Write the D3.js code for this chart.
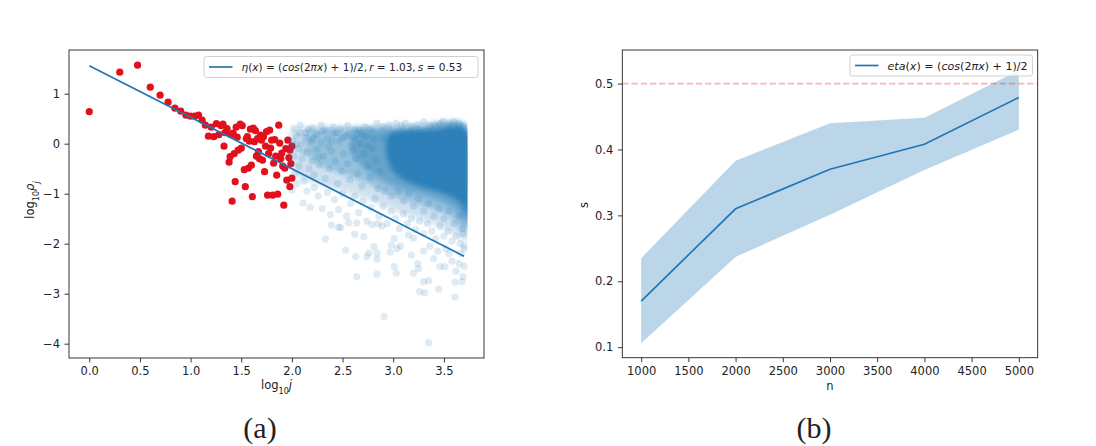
<!DOCTYPE html>
<html>
<head>
<meta charset="utf-8">
<script src="https://cdn.jsdelivr.net/npm/d3@7"></script>
<style>
  body { margin: 0; background: #fff; }
  svg text { font-family: "DejaVu Sans", sans-serif; fill: #222; }
</style>
</head>
<body>
<svg id="fig" width="1096" height="446"></svg>
<script>
// ---- panel (a): rank vs. weight, log-log ----
// first 100 ranks, read off the red markers
var redPoints = [
  [0.0,0.64],[0.301,1.43],[0.477,1.57],[0.602,1.13],[0.699,0.97],[0.778,0.83],[0.845,0.71],
  [0.903,0.65],[0.954,0.57],[1.0,0.55],[1.041,0.55],[1.079,0.57],[1.114,0.47],[1.146,0.37],
  [1.176,0.15],[1.204,0.33],[1.23,0.14],[1.255,0.40],[1.279,0.18],[1.301,0.36],
  [1.32,0.39],[1.33,-0.05],[1.34,0.22],[1.36,0.30],[1.38,-0.37],[1.39,-0.26],[1.40,0.18],
  [1.41,-1.15],[1.42,0.21],[1.43,-0.20],[1.44,-0.76],[1.45,0.33],[1.46,0.13],[1.47,-0.13],
  [1.49,0.39],[1.50,-0.09],[1.51,0.36],[1.53,-0.52],[1.54,-0.86],[1.55,0.10],[1.56,0.14],
  [1.57,-0.49],[1.58,0.05],[1.59,0.29],[1.60,-0.43],[1.61,-1.06],[1.62,0.31],[1.63,0.04],
  [1.64,0.26],[1.65,-0.25],[1.66,0.10],[1.67,-0.16],[1.68,-0.30],[1.69,0.17],[1.70,0.07],
  [1.71,-0.33],[1.72,0.14],[1.73,-0.56],[1.74,-0.05],[1.75,0.24],[1.76,-1.03],[1.77,-0.20],
  [1.78,0.27],[1.79,-0.09],[1.80,0.07],[1.81,-1.03],[1.82,-0.39],[1.83,0.08],[1.84,-0.25],
  [1.85,-0.63],[1.86,-1.01],[1.87,0.37],[1.88,0.01],[1.89,-0.30],[1.90,-0.19],[1.91,-0.45],
  [1.92,-1.23],[1.93,-0.49],[1.94,-0.10],[1.95,-0.73],[1.96,0.07],[1.97,-0.28],[1.98,-0.13],
  [1.98,-0.86],[1.99,-0.40],[2.0,-0.69],[2.0,-0.05]
];

// remaining ranks: the sparse, individually visible blue markers
var bluePoints = [
  // upper edge of the cloud
  [2.02,0.30],[2.08,0.37],[2.14,0.22],[2.2,0.31],[2.29,0.37],[2.34,0.27],[2.41,0.33],[2.48,0.30],
  [2.55,0.36],[2.62,0.28],[2.66,0.27],[2.72,0.33],[2.78,0.30],[2.84,0.41],[2.9,0.34],[2.96,0.37],
  [3.03,0.41],[3.08,0.36],[3.12,0.41],[3.18,0.35],[3.24,0.38],[3.30,0.44],[3.36,0.36],[3.41,0.37],
  [3.46,0.40],[3.49,0.44],[3.55,0.38],[3.6,0.44],[3.65,0.40],[3.69,0.36],
  // thin part of the cloud, ranks 100..800
  [2.01,0.05],[2.02,-0.25],[2.03,-0.6],[2.05,0.15],[2.06,-0.1],[2.07,-0.45],[2.09,0.0],[2.1,-0.3],
  [2.12,-0.75],[2.13,0.12],[2.15,-0.18],[2.17,-0.5],[2.19,0.05],[2.2,-0.35],[2.22,-0.62],[2.24,0.18],
  [2.25,-0.12],[2.27,-0.42],[2.29,0.02],[2.31,-0.25],[2.33,-0.7],[2.35,0.1],[2.37,-0.5],[2.39,-0.15],
  [2.41,0.2],[2.43,-0.35],[2.45,-0.8],[2.47,0.05],[2.49,-0.55],[2.51,-0.2],[2.53,0.15],[2.55,-0.4],
  [2.57,-0.72],[2.59,-0.05],[2.61,0.12],[2.63,-0.3],[2.65,-0.6],[2.67,0.0],[2.69,-0.85],[2.71,-0.2],
  [2.73,0.15],[2.75,-0.45],[2.77,-0.68],[2.79,-0.1],[2.81,0.08],[2.83,-0.35],[2.85,-0.9],[2.87,-0.55],
  [2.89,0.1],[2.04,-0.02],[2.08,0.22],[2.11,-0.15],[2.16,0.28],[2.21,0.1],[2.26,-0.28],[2.3,0.25],
  [2.36,-0.05],[2.4,0.05],[2.44,0.22],[2.5,0.12],[2.56,0.2],[2.6,-0.15],[2.68,0.2],[2.74,-0.05],
  // below the main band
  [2.0,-0.93],[2.05,-0.8],[2.11,-1.19],[2.15,-0.95],[2.18,-1.27],[2.22,-0.88],[2.26,-1.05],[2.3,-1.3],
  [2.35,-0.98],[2.38,-1.42],[2.42,-1.12],[2.46,-1.32],[2.5,-1.0],[2.54,-1.45],[2.58,-1.2],[2.62,-1.05],
  [2.66,-1.38],[2.7,-1.15],[2.74,-1.55],[2.78,-1.28],[2.82,-1.1],[2.86,-1.45],[2.9,-1.25],[2.94,-1.6],
  [2.98,-1.35],[3.02,-1.5],[3.06,-1.7],[3.1,-1.4],[3.14,-1.6],[3.18,-1.5],[3.22,-1.72],[3.26,-1.55],
  [3.3,-1.8],[3.34,-1.6],[3.38,-1.75],[3.42,-1.9],[3.46,-1.65],[3.5,-1.85],[3.54,-1.75],[3.58,-1.95],
  [3.62,-1.85],[3.66,-2.0],[3.69,-1.8],[3.7,-2.1],
  [2.92,-0.95],[2.98,-1.05],[3.05,-0.95],[3.1,-1.15],[3.15,-1.0],[3.2,-1.25],[3.25,-1.1],[3.3,-1.35],
  [3.35,-1.2],[3.4,-1.45],[3.45,-1.3],[3.5,-1.5],[3.55,-1.35],[3.6,-1.6],[3.65,-1.45],[3.68,-1.7],
  // outliers
  [2.33,-1.91],[2.39,-1.63],[2.46,-1.67],[2.48,-1.68],[2.56,-1.58],[2.64,-1.59],[2.53,-2.13],[2.62,-1.81],
  [2.63,-2.26],[2.64,-2.66],[2.71,-1.86],[2.74,-2.26],[2.76,-2.19],[2.81,-2.06],[2.84,-2.19],[2.84,-2.31],
  [2.84,-2.61],[2.91,-3.46],[2.79,-1.62],[2.85,-1.6],[2.89,-1.65],[2.97,-2.17],[2.98,-2.03],[3.01,-2.46],
  [3.03,-2.59],[3.01,-1.9],[3.07,-2.05],[3.04,-2.1],[3.15,-1.83],[3.2,-1.89],[3.18,-2.23],[3.2,-2.59],
  [3.24,-2.4],[3.25,-2.5],[3.26,-2.96],[3.31,-2.98],[3.30,-2.76],[3.35,-2.74],[3.35,-3.98],[3.45,-2.91],
  [3.46,-2.46],[3.51,-2.46],[3.61,-3.07],[3.61,-2.77],[3.68,-2.76],[3.69,-2.66],[3.65,-2.4],[3.67,-2.2],
  [3.7,-2.05],[3.3,-2.15],[3.36,-2.05],[3.4,-2.3],[3.55,-2.2],[3.58,-2.35],[3.52,-2.1],[3.44,-2.15],
  [3.62,-2.55],[3.7,-2.45]
];

// the overlapping bulk of the blue cloud, traced as nested outlines (outer -> core)
var densityOuter = [[1.99,0.25],[2.1,0.33],[2.4,0.35],[2.7,0.36],[3.0,0.38],[3.3,0.38],[3.72,0.4],
  [3.72,-1.95],[3.6,-1.8],[3.4,-1.6],[3.1,-1.4],[2.8,-1.15],[2.5,-0.95],[2.25,-0.8],[2.05,-0.65],[1.99,-0.3]];
var densityMid = [[2.15,0.22],[2.5,0.3],[2.8,0.33],[3.1,0.34],[3.72,0.36],[3.72,-1.75],[3.55,-1.45],
  [3.3,-1.25],[3.0,-1.05],[2.75,-0.8],[2.5,-0.6],[2.3,-0.45],[2.15,-0.2]];
var densityInner = [[2.6,0.22],[2.9,0.3],[3.3,0.32],[3.72,0.33],[3.72,-1.6],[3.6,-1.3],[3.4,-1.1],
  [3.15,-0.95],[2.95,-0.8],[2.75,-0.55],[2.6,-0.2]];
var densityCore = [[2.95,0.18],[3.1,0.27],[3.4,0.29],[3.72,0.3],[3.72,-1.45],[3.67,-1.2],[3.5,-1.0],
  [3.3,-0.88],[3.1,-0.72],[2.98,-0.5],[2.93,-0.15]];

var fitX = [0, 3.699];
var fitY = [1.56, -2.25];
var xTicksA = [0, 0.5, 1.0, 1.5, 2.0, 2.5, 3.0, 3.5];
var yTicksA = [-4, -3, -2, -1, 0, 1];

// ---- panel (b): s vs. n ----
var nValues = [1000, 2000, 3000, 4000, 5000];
var sMean   = [0.170, 0.310, 0.370, 0.408, 0.479];
var sLower  = [0.106, 0.237, 0.301, 0.369, 0.430];
var sUpper  = [0.235, 0.383, 0.440, 0.448, 0.520];
var sRef = 0.5;
var xTicksB = [1000, 1500, 2000, 2500, 3000, 3500, 4000, 4500, 5000];
var yTicksB = [0.1, 0.2, 0.3, 0.4, 0.5];

var BLUE = '#1f77b4', RED = '#e2101c', FS = 11.5;
var svg = d3.select('#fig');
var defs = svg.append('defs');

defs.append('filter').attr('id', 'soft')
  .attr('x', '-10%').attr('y', '-10%').attr('width', '120%').attr('height', '120%')
  .append('feGaussianBlur').attr('stdDeviation', 2.6);

var minus = function(s) { return String(s).replace('-', '\u2212'); };

function frame(g, x, y, xt, yt, xf, yf) {
  var r = x.range(), h = y.range();
  g.append('g').attr('transform', 'translate(0,' + h[0] + ')')
    .call(d3.axisBottom(x).tickValues(xt).tickFormat(xf).tickSize(4.5).tickPadding(4.5))
    .call(function(a) { a.select('.domain').remove(); });
  g.append('g').attr('transform', 'translate(' + r[0] + ',0)')
    .call(d3.axisLeft(y).tickValues(yt).tickFormat(yf).tickSize(4.5).tickPadding(4.5))
    .call(function(a) { a.select('.domain').remove(); });
  g.selectAll('.tick line').attr('stroke', '#222').attr('stroke-width', 0.9);
  g.selectAll('.tick text').attr('font-size', FS).attr('font-family', 'DejaVu Sans').attr('fill', '#222');
  g.append('rect').attr('x', r[0]).attr('y', h[1])
    .attr('width', r[1] - r[0]).attr('height', h[0] - h[1])
    .attr('fill', 'none').attr('stroke', '#222').attr('stroke-width', 0.9);
}

// writes [text, italic?, shift] pieces into a text node
function rich(t, parts, fs) {
  parts.forEach(function(p) {
    var s = t.append('tspan').text(p[0]);
    if (p[1]) s.attr('font-style', 'italic');
    if (p[2]) s.attr('baseline-shift', p[2]).attr('font-size', (fs || FS) * 0.7);
  });
  return t;
}

function legend(g, x0, y0, w, fs, label) {
  g.append('rect').attr('x', x0).attr('y', y0).attr('width', w).attr('height', 21)
    .attr('rx', 2.5).attr('fill', '#fff').attr('fill-opacity', 0.8)
    .attr('stroke', '#ccc').attr('stroke-width', 0.9);
  g.append('line').attr('x1', x0 + 5).attr('x2', x0 + 28.5)
    .attr('y1', y0 + 10.5).attr('y2', y0 + 10.5)
    .attr('stroke', BLUE).attr('stroke-width', 1.7);
  rich(g.append('text').attr('x', x0 + 37.5).attr('y', y0 + 14.5).attr('font-size', fs), label, fs);
}

// ---------- (a) ----------
var xA = d3.scaleLinear().domain([-0.2, 3.896]).range([69, 484]);
var yA = d3.scaleLinear().domain([-4.286, 1.874]).range([358, 50]);
var gA = svg.append('g');

defs.append('clipPath').attr('id', 'clipA').append('rect')
  .attr('x', 69).attr('y', 50).attr('width', xA(3.699) + 3.6 - 69).attr('height', 308);

var pts = function(a) { return a.map(function(d) { return [xA(d[0]), yA(d[1])]; }); };

gA.selectAll('circle.red').data(redPoints).enter().append('circle')
  .attr('class', 'red').attr('cx', function(d) { return xA(d[0]); })
  .attr('cy', function(d) { return yA(d[1]); }).attr('r', 3.6).attr('fill', RED);

var cloud = gA.append('g').attr('clip-path', 'url(#clipA)');
var haze = cloud.append('g').attr('filter', 'url(#soft)');
[[densityOuter, 0.22], [densityMid, 0.3], [densityInner, 0.4], [densityCore, 0.8]].forEach(function(l) {
  haze.append('path').attr('d', d3.line().curve(d3.curveCatmullRomClosed)(pts(l[0])))
    .attr('fill', BLUE).attr('fill-opacity', l[1]);
});
cloud.selectAll('circle.blue').data(bluePoints).enter().append('circle')
  .attr('class', 'blue').attr('cx', function(d) { return xA(d[0]); })
  .attr('cy', function(d) { return yA(d[1]); }).attr('r', 3.6)
  .attr('fill', BLUE).attr('fill-opacity', 0.15);

gA.append('path').attr('d', d3.line()(fitX.map(function(v, i) { return [xA(v), yA(fitY[i])]; })))
  .attr('stroke', BLUE).attr('stroke-width', 1.7).attr('fill', 'none');

frame(gA, xA, yA, xTicksA, yTicksA, function(d) { return minus(d3.format('.1f')(d)); }, minus);

rich(gA.append('text').attr('x', 276.5).attr('y', 389).attr('text-anchor', 'middle').attr('font-size', FS),
  [['log'], ['10', false, 'sub'], ['j', true]]);
rich(gA.append('text').attr('transform', 'translate(34,200) rotate(-90)').attr('text-anchor', 'middle').attr('font-size', FS),
  [['log'], ['10', false, 'sub'], ['\u03c1', true], ['j', true, 'sub']]);

legend(gA, 204, 56.5, 274, 10.5, [['\u03b7', true], ['('], ['x', true], [') = ('], ['cos', true], ['(2'],
  ['\u03c0', true], ['x', true], [') + 1)/2,\u2009'], ['r', true], [' = 1.03,\u2009'], ['s', true], [' = 0.53']]);

// ---------- (b) ----------
var xB = d3.scaleLinear().domain([800, 5200]).range([622.3, 1037.7]);
var yB = d3.scaleLinear().domain([0.084, 0.551]).range([357.7, 50]);
var gB = svg.append('g');

defs.append('clipPath').attr('id', 'clipB').append('rect')
  .attr('x', 622.3).attr('y', 50).attr('width', 415.4).attr('height', 307.7);

var band = d3.area().x(function(d) { return xB(d); })
  .y0(function(d, i) { return yB(sLower[i]); }).y1(function(d, i) { return yB(sUpper[i]); });
gB.append('path').attr('d', band(nValues)).attr('fill', BLUE).attr('fill-opacity', 0.3)
  .attr('clip-path', 'url(#clipB)');

gB.append('line').attr('x1', 622.3).attr('x2', 1037.7).attr('y1', yB(sRef)).attr('y2', yB(sRef))
  .attr('stroke', 'red').attr('stroke-opacity', 0.3).attr('stroke-width', 1.7)
  .attr('stroke-dasharray', '6.4,2.8');

gB.append('path').attr('d', d3.line().x(function(d) { return xB(d); })
    .y(function(d, i) { return yB(sMean[i]); })(nValues))
  .attr('stroke', BLUE).attr('stroke-width', 1.7).attr('fill', 'none');

frame(gB, xB, yB, xTicksB, yTicksB, d3.format('d'), d3.format('.1f'));

gB.append('text').attr('x', 830).attr('y', 390).attr('text-anchor', 'middle').attr('font-size', FS).text('n');
gB.append('text').attr('transform', 'translate(588,205) rotate(-90)').attr('text-anchor', 'middle')
  .attr('font-size', FS).text('s');

legend(gB, 850, 55, 182.5, 11.1, [['eta', true], ['('], ['x', true], [') = ('], ['cos', true], ['(2'],
  ['\u03c0', true], ['x', true], [') + 1)/2']]);

// sub-figure captions
svg.selectAll('text.cap').data([['(a)', 260], ['(b)', 814]]).enter().append('text')
  .attr('class', 'cap').attr('x', function(d) { return d[1]; }).attr('y', 438)
  .attr('text-anchor', 'middle').attr('font-size', 30)
  .style('font-family', '"Liberation Serif", serif').text(function(d) { return d[0]; });
</script>
</body>
</html>
